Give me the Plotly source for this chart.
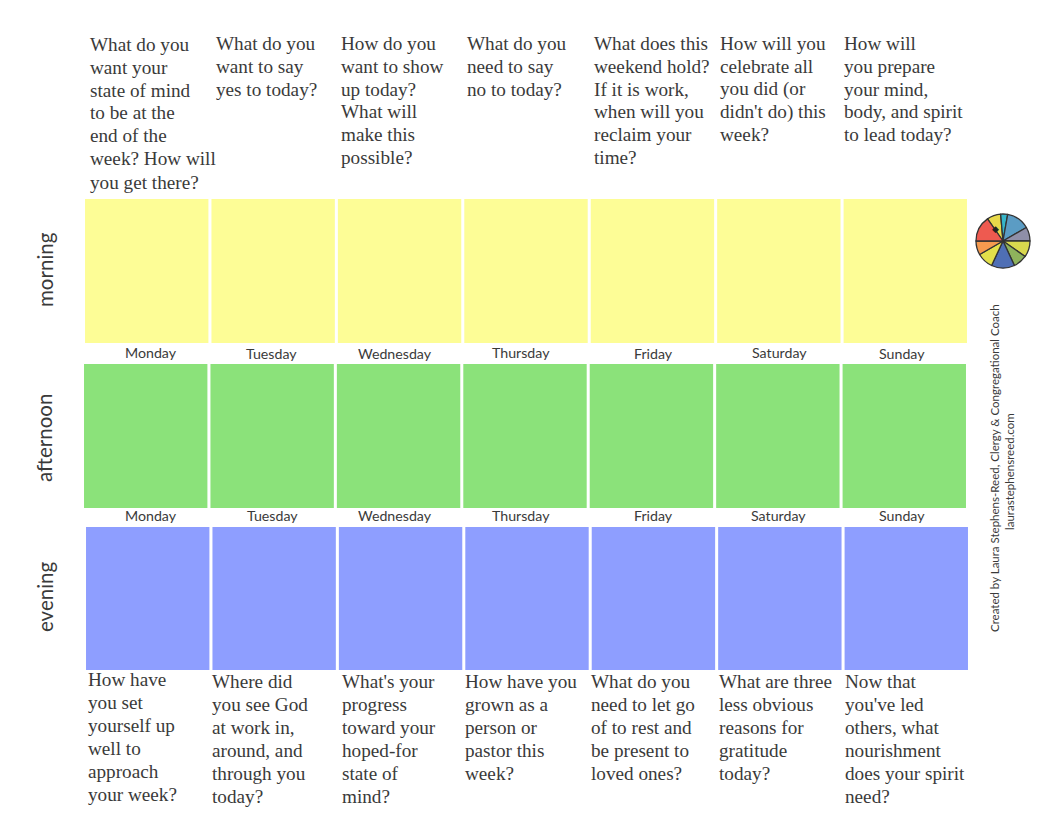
import plotly.graph_objects as go

W = 1056
H = 816

days = ["Monday", "Tuesday", "Wednesday", "Thursday", "Friday", "Saturday", "Sunday"]
parts = ["morning", "afternoon", "evening"]
cell_values = [1, 1, 1, 1, 1, 1, 1]
part_colors = ["#fdfd96", "#8be27a", "#8e9eff"]

top_questions = [
    ["What do you", "want your", "state of mind", "to be at the", "end of the", "week? How will", "you get there?"],
    ["What do you", "want to say", "yes to today?"],
    ["How do you", "want to show", "up today?", "What will", "make this", "possible?"],
    ["What do you", "need to say", "no to today?"],
    ["What does this", "weekend hold?", "If it is work,", "when will you", "reclaim your", "time?"],
    ["How will you", "celebrate all", "you did (or", "didn't do) this", "week?"],
    ["How will", "you prepare", "your mind,", "body, and spirit", "to lead today?"],
]
bottom_questions = [
    ["How have", "you set", "yourself up", "well to", "approach", "your week?"],
    ["Where did", "you see God", "at work in,", "around, and", "through you", "today?"],
    ["What's your", "progress", "toward your", "hoped-for", "state of", "mind?"],
    ["How have you", "grown as a", "person or", "pastor this", "week?"],
    ["What do you", "need to let go", "of to rest and", "be present to", "loved ones?"],
    ["What are three", "less obvious", "reasons for", "gratitude", "today?"],
    ["Now that", "you've led", "others, what", "nourishment", "does your spirit", "need?"],
]

wheel_slices = [30, 15, 50, 30, 35, 30, 50, 35, 30, 55]
wheel_colors = ["#e8d94a", "#35b5c9", "#5b9cc4", "#8f8fa8", "#d9d84e",
                "#8fb35c", "#4f6fb5", "#e3e04a", "#f59a4f", "#ee5a50"]

credit_lines = ["Created by Laura Stephens-Reed, Clergy & Congregational Coach", "laurastephensreed.com"]

# layout, in page pixels
row_boxes = [(85, 967, 199, 343), (84, 966, 364, 508), (86, 968, 527, 670)]
top_x = [88, 214, 339, 465, 592, 718, 842]
top_y = [44, 43, 43, 43, 43, 43, 43]
bottom_x = [86, 210, 340, 463, 589, 717, 843]
bottom_y = [679, 681, 681, 681, 681, 681, 681]
line_step = 23
day_x = [[151, 271, 395, 521, 653, 779, 902], [151, 272, 395, 521, 653, 778, 902]]
day_y = [[352, 353, 353, 352, 353, 352, 353], [515, 515, 515, 515, 515, 515, 515]]
part_pos = [(45, 270), (44, 438), (45, 597)]

TEXT = "#3a3a3a"
SERIF = "Liberation Serif"
SANS = "Lato"
GAP = 3


def px(x):
    return x / W


def py(y):
    return 1 - y / H


fig = go.Figure()
layout = {}
for i, part in enumerate(parts):
    left, right, top, bottom = row_boxes[i]
    suffix = "" if i == 0 else str(i + 1)
    fig.add_trace(go.Bar(
        x=days, y=cell_values, name=part,
        marker=dict(color=part_colors[i], line_width=0),
        xaxis="x" + suffix, yaxis="y" + suffix, showlegend=False,
    ))
    layout["xaxis" + suffix] = dict(
        domain=[px(left - GAP / 2), px(right + GAP / 2)],
        anchor="y" + suffix, visible=False, categoryorder="array", categoryarray=days,
    )
    layout["yaxis" + suffix] = dict(
        domain=[py(bottom), py(top)], anchor="x" + suffix, visible=False, range=[0, 1],
    )

# the little coloured wheel
fig.add_trace(go.Pie(
    values=wheel_slices, sort=False, direction="clockwise", rotation=-35,
    marker=dict(colors=wheel_colors, line=dict(color="#333333", width=1.3)),
    textinfo="none", hoverinfo="skip", showlegend=False,
    domain=dict(x=[px(976), px(1030)], y=[py(268), py(214)]),
))

annotations = []


def add_text(text, x, y, size, family, angle=0, anchor="center", color=TEXT):
    annotations.append(dict(
        text=text, x=px(x), y=py(y), xref="paper", yref="paper",
        xanchor=anchor, yanchor="middle", showarrow=False, textangle=angle,
        font=dict(size=size, family=family, color=color),
    ))


for block, xs, ys in [(top_questions, top_x, top_y), (bottom_questions, bottom_x, bottom_y)]:
    for lines, x0, y0 in zip(block, xs, ys):
        for n, line in enumerate(lines):
            add_text(line, x0, y0 + n * line_step, 19.2, SERIF, anchor="left")

for r in range(2):
    for d, day in enumerate(days):
        add_text(day, day_x[r][d], day_y[r][d], 14.2, SANS)

for part, (x, y) in zip(parts, part_pos):
    add_text(part, x, y, 20.5, SANS, angle=-90)

add_text(credit_lines[0], 995, 468, 11.5, SANS, angle=-90)
add_text(credit_lines[1], 1009, 472, 11.5, SANS, angle=-90)

# dark mark on the wheel
add_text("\u25c6", 995, 229, 9, "DejaVu Sans", color="#222222")

fig.update_layout(
    width=W, height=H, margin=dict(l=0, r=0, t=0, b=0),
    paper_bgcolor="white", plot_bgcolor="white",
    bargap=0.024, annotations=annotations, **layout,
)

fig.write_html("out.html", config={"displayModeBar": False},
               post_script="document.body.style.margin = '0';")
